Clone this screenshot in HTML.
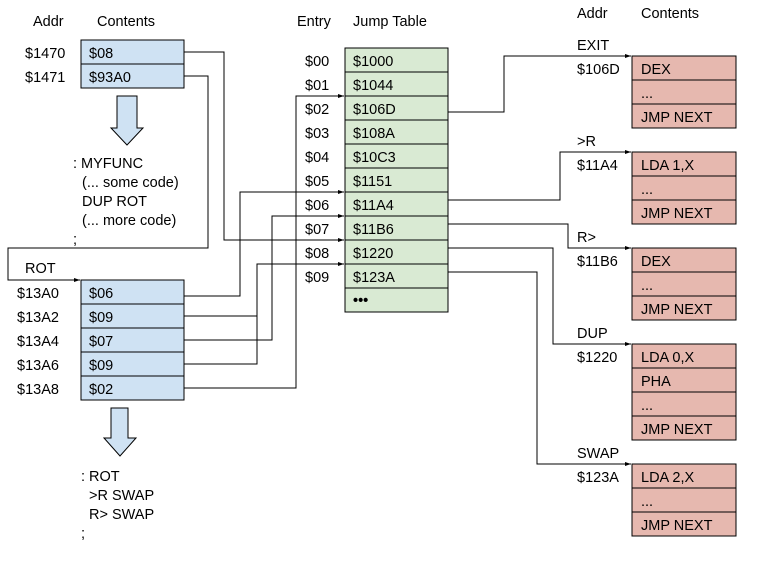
<!DOCTYPE html>
<html><head><meta charset="utf-8"><style>
html,body{margin:0;padding:0;background:#fff}
svg text{font-family:"Liberation Sans",Arial,sans-serif;font-size:14.5px;fill:#000}
</style></head><body>
<svg width="759" height="566" viewBox="0 0 759 566" xmlns="http://www.w3.org/2000/svg">
<defs><marker id="a" markerWidth="6" markerHeight="6" refX="6" refY="3" orient="auto" markerUnits="userSpaceOnUse"><path d="M0,1 L6,3 L0,5 z" fill="#000"/></marker></defs>
<g stroke="#000" stroke-width="1">
<!-- top left box -->
<rect x="81" y="40" width="103" height="24" fill="#cfe2f3"/>
<rect x="81" y="64" width="103" height="24" fill="#cfe2f3"/>
<!-- ROT box -->
<rect x="81" y="280" width="103" height="24" fill="#cfe2f3"/>
<rect x="81" y="304" width="103" height="24" fill="#cfe2f3"/>
<rect x="81" y="328" width="103" height="24" fill="#cfe2f3"/>
<rect x="81" y="352" width="103" height="24" fill="#cfe2f3"/>
<rect x="81" y="376" width="103" height="24" fill="#cfe2f3"/>
<!-- jump table -->
<rect x="345" y="48" width="103" height="24" fill="#d9ead3"/>
<rect x="345" y="72" width="103" height="24" fill="#d9ead3"/>
<rect x="345" y="96" width="103" height="24" fill="#d9ead3"/>
<rect x="345" y="120" width="103" height="24" fill="#d9ead3"/>
<rect x="345" y="144" width="103" height="24" fill="#d9ead3"/>
<rect x="345" y="168" width="103" height="24" fill="#d9ead3"/>
<rect x="345" y="192" width="103" height="24" fill="#d9ead3"/>
<rect x="345" y="216" width="103" height="24" fill="#d9ead3"/>
<rect x="345" y="240" width="103" height="24" fill="#d9ead3"/>
<rect x="345" y="264" width="103" height="24" fill="#d9ead3"/>
<rect x="345" y="288" width="103" height="24" fill="#d9ead3"/>
<!-- right boxes -->
<rect x="632" y="56" width="104" height="24" fill="#e6b8af"/>
<rect x="632" y="80" width="104" height="24" fill="#e6b8af"/>
<rect x="632" y="104" width="104" height="24" fill="#e6b8af"/>
<rect x="632" y="152" width="104" height="24" fill="#e6b8af"/>
<rect x="632" y="176" width="104" height="24" fill="#e6b8af"/>
<rect x="632" y="200" width="104" height="24" fill="#e6b8af"/>
<rect x="632" y="248" width="104" height="24" fill="#e6b8af"/>
<rect x="632" y="272" width="104" height="24" fill="#e6b8af"/>
<rect x="632" y="296" width="104" height="24" fill="#e6b8af"/>
<rect x="632" y="344" width="104" height="24" fill="#e6b8af"/>
<rect x="632" y="368" width="104" height="24" fill="#e6b8af"/>
<rect x="632" y="392" width="104" height="24" fill="#e6b8af"/>
<rect x="632" y="416" width="104" height="24" fill="#e6b8af"/>
<rect x="632" y="464" width="104" height="24" fill="#e6b8af"/>
<rect x="632" y="488" width="104" height="24" fill="#e6b8af"/>
<rect x="632" y="512" width="104" height="24" fill="#e6b8af"/>
<!-- block arrows -->
<path d="M117,96 H137 V128 H143 L127,145 L111,128 H117 Z" fill="#cfe2f3"/>
<path d="M111,408 H128 V438 H136 L120,456 L104,438 H111 Z" fill="#cfe2f3"/>
</g>
<g stroke="#000" stroke-width="1" fill="none">
<polyline points="184,52 224,52 224,240 344,240" marker-end="url(#a)"/>
<polyline points="184,76 208,76 208,248 8,248 8,280 80,280" marker-end="url(#a)"/>
<polyline points="184,296 240,296 240,192 344,192" marker-end="url(#a)"/>
<polyline points="184,316 257,316 257,264 344,264" marker-end="url(#a)"/>
<polyline points="184,364 257,364 257,316"/>
<polyline points="184,340 272,340 272,216 344,216" marker-end="url(#a)"/>
<polyline points="184,388 296,388 296,96 344,96" marker-end="url(#a)"/>
<polyline points="448,112 504,112 504,56 631,56" marker-end="url(#a)"/>
<polyline points="448,200 560,200 560,152 631,152" marker-end="url(#a)"/>
<polyline points="448,224 568,224 568,248 631,248" marker-end="url(#a)"/>
<polyline points="448,248 553,248 553,344 631,344" marker-end="url(#a)"/>
<polyline points="448,272 537,272 537,464 631,464" marker-end="url(#a)"/>
</g>
<text x="33" y="26">Addr</text><text x="97" y="26">Contents</text>
<text x="25" y="58">$1470</text><text x="89" y="58">$08</text>
<text x="25" y="82">$1471</text><text x="89" y="82">$93A0</text>
<text x="73" y="168">: MYFUNC</text>
<text x="82" y="187">(... some code)</text>
<text x="82" y="206">DUP ROT</text>
<text x="82" y="225">(... more code)</text>
<text x="73" y="244">;</text>
<text x="25" y="273">ROT</text>
<text x="17" y="298">$13A0</text><text x="89" y="298">$06</text>
<text x="17" y="322">$13A2</text><text x="89" y="322">$09</text>
<text x="17" y="346">$13A4</text><text x="89" y="346">$07</text>
<text x="17" y="370">$13A6</text><text x="89" y="370">$09</text>
<text x="17" y="394">$13A8</text><text x="89" y="394">$02</text>
<text x="81" y="481">: ROT</text>
<text x="89" y="500">&gt;R SWAP</text>
<text x="89" y="519">R&gt; SWAP</text>
<text x="81" y="538">;</text>
<text x="297" y="26">Entry</text><text x="353" y="26">Jump Table</text>
<text x="305" y="66">$00</text><text x="353" y="66">$1000</text>
<text x="305" y="90">$01</text><text x="353" y="90">$1044</text>
<text x="305" y="114">$02</text><text x="353" y="114">$106D</text>
<text x="305" y="138">$03</text><text x="353" y="138">$108A</text>
<text x="305" y="162">$04</text><text x="353" y="162">$10C3</text>
<text x="305" y="186">$05</text><text x="353" y="186">$1151</text>
<text x="305" y="210">$06</text><text x="353" y="210">$11A4</text>
<text x="305" y="234">$07</text><text x="353" y="234">$11B6</text>
<text x="305" y="258">$08</text><text x="353" y="258">$1220</text>
<text x="305" y="282">$09</text><text x="353" y="282">$123A</text>
<text x="353" y="305" style="font-weight:bold">•••</text>
<text x="577" y="18">Addr</text><text x="641" y="18">Contents</text>
<text x="577" y="50">EXIT</text><text x="577" y="74">$106D</text>
<text x="641" y="74">DEX</text><text x="641" y="98">...</text><text x="641" y="122">JMP NEXT</text>
<text x="577" y="146">&gt;R</text><text x="577" y="170">$11A4</text>
<text x="641" y="170">LDA 1,X</text><text x="641" y="194">...</text><text x="641" y="218">JMP NEXT</text>
<text x="577" y="242">R&gt;</text><text x="577" y="266">$11B6</text>
<text x="641" y="266">DEX</text><text x="641" y="290">...</text><text x="641" y="314">JMP NEXT</text>
<text x="577" y="338">DUP</text><text x="577" y="362">$1220</text>
<text x="641" y="362">LDA 0,X</text><text x="641" y="386">PHA</text><text x="641" y="410">...</text><text x="641" y="434">JMP NEXT</text>
<text x="577" y="458">SWAP</text><text x="577" y="482">$123A</text>
<text x="641" y="482">LDA 2,X</text><text x="641" y="506">...</text><text x="641" y="530">JMP NEXT</text>
</svg>
</body></html>
